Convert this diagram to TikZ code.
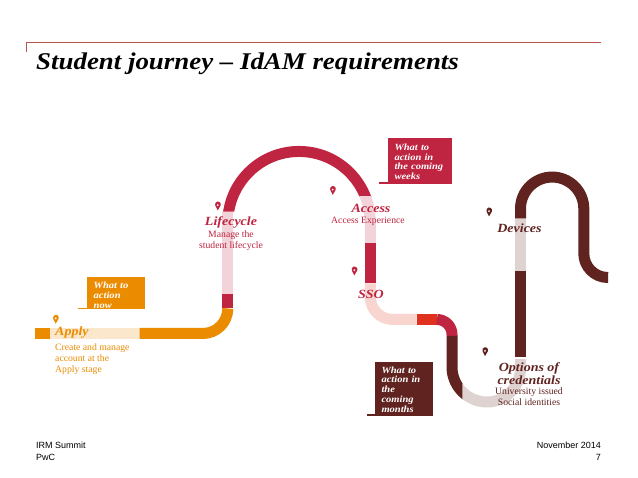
\documentclass[tikz,border=0pt]{standalone}
\usepackage{fontspec}
\setmainfont{Liberation Serif}[FakeStretch=1.12]
\newfontfamily\subfont{Liberation Serif}
\newfontfamily\footfont{Liberation Sans}
\usetikzlibrary{positioning}
\definecolor{pwcorange}{HTML}{EB8C00}
\definecolor{pwclightorange}{HTML}{FBE8CC}
\definecolor{pwccrimson}{HTML}{BF2440}
\definecolor{pwcpink}{HTML}{F2D3D9}
\definecolor{pwcred}{HTML}{E0301E}
\definecolor{pwcpeach}{HTML}{F9D5CF}
\definecolor{pwcbrown}{HTML}{602320}
\definecolor{pwclightbrown}{HTML}{DFD3D2}
\definecolor{pwcrule}{HTML}{B5564E}
\tikzset{
    track/.style={line width=11pt, line cap=butt, line join=round},
    head/.style={font=\fontsize{12.5}{13.5}\selectfont\bfseries\itshape, inner sep=0pt, align=center},
    sub/.style={font=\fontsize{9.7}{11}\selectfont\subfont, inner sep=0pt, align=center},
    callout/.style={font=\fontsize{9.4}{9.7}\selectfont\bfseries\itshape, text=white, anchor=north west,
        align=left, inner sep=0pt, text width=#1},
    foot/.style={font=\fontsize{9}{12}\selectfont\footfont, inner sep=0pt},
    mappin/.pic={
        \fill[pic actions] (0,4.4) -- (-2.5,-0.6) arc[start angle=200,end angle=-20,radius=2.9pt] -- cycle;
        \fill[white] (0,-0.9) circle[radius=1pt];
    }
}
\begin{document}
\begin{tikzpicture}[x=1pt, y=-1pt]
    \useasboundingbox[fill=white] (0,0) rectangle (638,478);

    % heading
    \draw[pwcrule, line width=0.9pt] (26.5,52) -- (26.5,42.5) -- (601,42.5);
    \node[anchor=base west, inner sep=0pt, font=\fontsize{24}{28}\selectfont\bfseries\itshape] (title) at (36,70) {Student journey -- IdAM requirements};

    % apply
    \draw[track, pwcorange] (35,333.5) -- (50,333.5);
    \draw[track, pwclightorange] (50,333.5) -- (139.5,333.5);
    \draw[track, pwcorange] (139.5,333.5) -- (202.8,333.5) arc[start angle=-90,end angle=0,radius=25pt];
    \draw[track, pwccrimson] (227.8,308.5) -- (227.8,294.5);
    \draw[track, pwcpink] (227.8,294.5) -- (227.8,211.7);

    % arch over to access
    \begin{scope}
        \clip (215,130) rectangle (300,211.7) (300,130) rectangle (385,197);
        \draw[track, pwccrimson] (227.8,222.7) arc[start angle=180,end angle=0,radius=71.25pt];
    \end{scope}
    \begin{scope}
        \clip (300,197) rectangle (385,243.3);
        \draw[track, pwcpink] (370.3,243.3) -- (370.3,222.7) arc[start angle=0,end angle=40,radius=71.25pt];
    \end{scope}
    \draw[track, pwccrimson] (370.3,243.3) -- (370.3,283.4);

    % sso
    \draw[track, pwcpeach] (370.3,283.4) -- (370.3,297) arc[start angle=180,end angle=270,radius=22.5pt] -- (416.7,319.5);
    \draw[track, pwcred] (416.7,319.5) -- (437,319.5);
    \draw[track, pwccrimson] (437,319.5) arc[start angle=90,end angle=0,radius=15pt] -- (452,336);

    % options of credentials
    \begin{scope}
        \clip (440,330) rectangle (462.7,410);
        \draw[track, pwcbrown] (452,336) -- (452,367) arc[start angle=180,end angle=260,radius=35pt];
    \end{scope}
    \begin{scope}
        \clip (462.7,360) rectangle (530,410);
        \draw[track, pwclightbrown] (452,367) arc[start angle=180,end angle=270,radius=35pt] -- (487,402) arc[start angle=-90,end angle=0,radius=33.5pt] -- (520.5,356.7);
    \end{scope}
    \draw[track, pwcbrown] (520.5,356.7) -- (520.5,271);

    % devices
    \draw[track, pwclightbrown] (520.5,271) -- (520.5,218.3);
    \draw[track, pwcbrown] (520.5,218.3) -- (520.5,208.7) arc[start angle=180,end angle=0,radius=31.65pt] -- (583.8,253.5) arc[start angle=180,end angle=270,radius=24pt] -- (608,277.5);

    % what to action
    \fill[pwcorange] (86.7,277.3) rectangle (144.7,309.3);
    \fill[pwcorange] (78,307.7) rectangle (86.7,309.3);
    \node[callout=50pt] (now) at (93.5,282) {What to\\action\\now};
    \fill[pwccrimson] (387.7,138.3) rectangle (452.3,184.3);
    \fill[pwccrimson] (379.3,182.4) rectangle (387.7,184.3);
    \node[callout=58pt] (weeks) at (394.3,143.7) {What to\\action in\\the coming\\weeks};
    \fill[pwcbrown] (375,362) rectangle (432.7,415.7);
    \fill[pwcbrown] (366.7,413.6) rectangle (375,415.7);
    \node[callout=50pt] (months) at (381.3,366.5) {What to\\action in\\the\\coming\\months};

    % labels
    \node[head, pwcorange, anchor=west] (apply) at (55,333) {Apply};
    \node[sub, pwcorange, align=left, below=5pt of apply.south west, anchor=north west] (applytxt) {Create and manage\\account at the\\Apply stage};
    \node[head, pwccrimson] (lifecycle) at (231,222) {Lifecycle};
    \node[sub, pwccrimson, below=3pt of lifecycle] (lifecycletxt) {Manage the\\student lifecycle};
    \node[head, pwccrimson] (access) at (371,208) {Access};
    \node[sub, pwccrimson, below=4.5pt of access, xshift=-3pt] (accesstxt) {Access Experience};
    \node[head, pwccrimson] (sso) at (371,294) {SSO};
    \node[head, pwcbrown] (devices) at (519.5,228.5) {Devices};
    \node[head, pwcbrown] (options) at (529,373.5) {Options of\\credentials};
    \node[sub, pwcbrown, below=3pt of options] (optionstxt) {University issued\\Social identities};

    % pins
    \pic[pwcorange] at (55.7,319.3) {mappin};
    \pic[pwccrimson] at (217.7,206) {mappin};
    \pic[pwccrimson] at (332.7,190.5) {mappin};
    \pic[pwccrimson] at (354.3,271) {mappin};
    \pic[pwcbrown] at (485,351.7) {mappin};
    \pic[pwcbrown] at (489,212) {mappin};

    % footer
    \node[foot, align=left, anchor=north west] (event) at (36,442) {IRM Summit\\PwC};
    \node[foot, align=right, anchor=north east] (date) at (601,442) {November 2014\\7};
\end{tikzpicture}
\end{document}
